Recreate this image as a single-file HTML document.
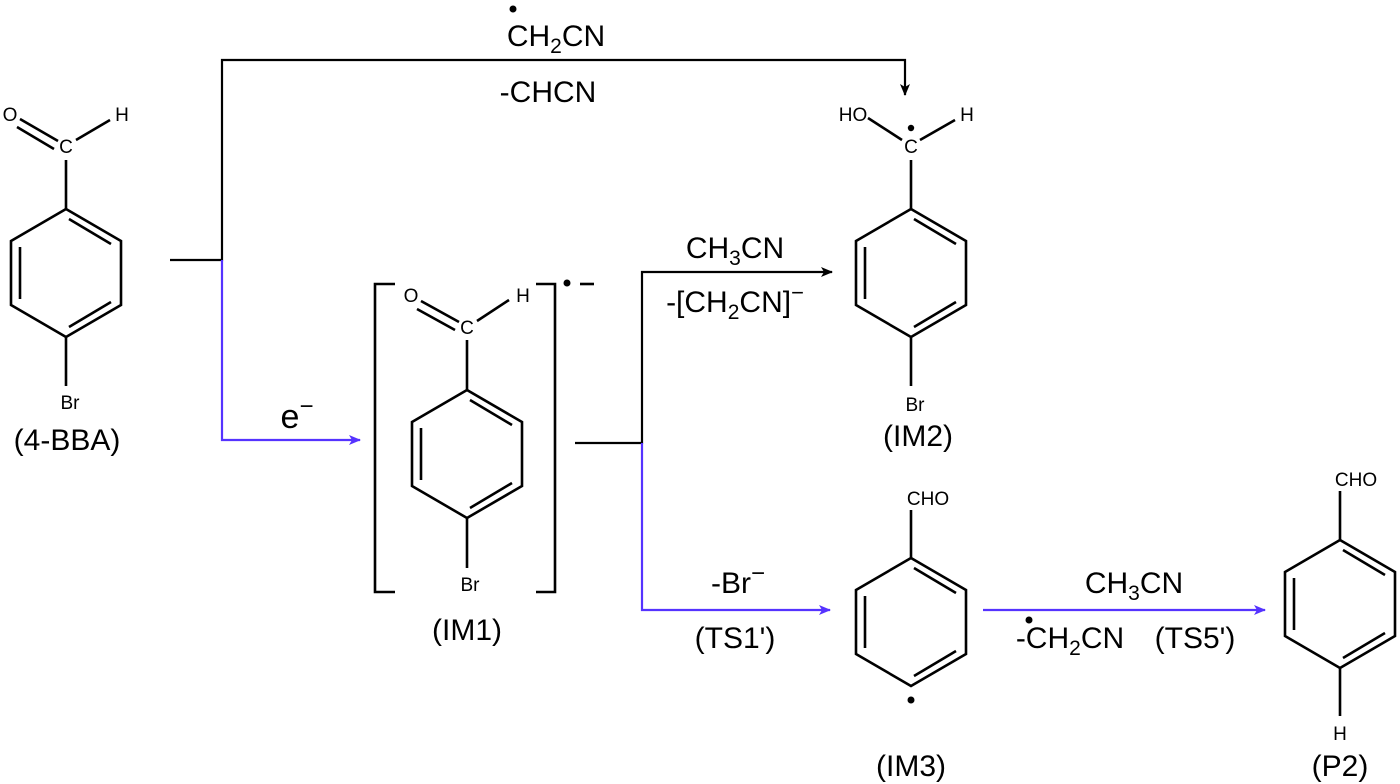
<!DOCTYPE html>
<html><head><meta charset="utf-8"><style>
html,body{margin:0;padding:0;background:#fff;}
svg{display:block;font-family:"Liberation Sans",Arial,sans-serif;}
</style></head><body>
<svg width="1400" height="784" viewBox="0 0 1400 784" xmlns="http://www.w3.org/2000/svg">
<defs>
<g id="ring" fill="none" stroke="#000" stroke-width="2.6">
<polygon points="0,-64 55,-32 55,32 0,64 -55,32 -55,-32"/>
<line x1="3" y1="-54" x2="45" y2="-29"/>
<line x1="-46" y1="-26" x2="-46" y2="26"/>
<line x1="45" y1="29" x2="3" y2="54"/>
</g>
<marker id="ab" markerWidth="12" markerHeight="10" refX="11" refY="5" orient="auto" markerUnits="userSpaceOnUse"><path d="M0,0 L12,5 L0,10 L3,5 Z" fill="#000"/></marker>
<marker id="ap" markerWidth="12" markerHeight="10" refX="11" refY="5" orient="auto" markerUnits="userSpaceOnUse"><path d="M0,0 L12,5 L0,10 L3,5 Z" fill="#5533ff"/></marker>
</defs>

<!-- 4-BBA -->
<use href="#ring" x="66" y="273"/>
<g stroke="#000" stroke-width="2.6" fill="none">
<line x1="66" y1="209" x2="66" y2="160"/>
<line x1="58" y1="141" x2="20" y2="119"/><line x1="54" y1="149" x2="17" y2="127"/>
<line x1="76" y1="140" x2="110" y2="120"/>
<line x1="66" y1="337" x2="66" y2="386"/>
</g>
<g font-size="19" text-anchor="middle">
<text x="66" y="153">C</text><text x="10" y="121">O</text><text x="122" y="121">H</text><text x="70" y="409">Br</text>
</g>
<text x="67" y="450" font-size="30" text-anchor="middle">(4-BBA)</text>

<!-- connectors from 4-BBA -->
<g fill="none" stroke-width="2.2">
<polyline points="170,260 222,260 222,60 905,60 905,95" stroke="#000" marker-end="url(#ab)"/>
<polyline points="222,260 222,440 360,440" stroke="#5533ff" marker-end="url(#ap)"/>
</g>
<g font-size="30" text-anchor="middle">
<text x="556" y="46">CH<tspan font-size="21" dy="7">2</tspan><tspan dy="-7">CN</tspan></text>
<circle cx="513" cy="9" r="3.5"/>
<text x="548" y="102">-CHCN</text>
<text x="297" y="428" font-size="34">e<tspan font-size="24" dy="-14">−</tspan></text>
</g>

<!-- IM1 -->
<g stroke="#000" stroke-width="2.6" fill="none">
<polyline points="395,284 375,284 375,592 395,592"/>
<polyline points="536,284 555,284 555,592 536,592"/>
<line x1="580" y1="284" x2="594" y2="284"/>
</g>
<circle cx="567" cy="283" r="3.5"/>
<use href="#ring" x="467" y="454"/>
<g stroke="#000" stroke-width="2.6" fill="none">
<line x1="467" y1="390" x2="467" y2="340"/>
<line x1="459" y1="322" x2="421" y2="301"/><line x1="455" y1="330" x2="417" y2="309"/>
<line x1="477" y1="321" x2="509" y2="300"/>
<line x1="467" y1="518" x2="467" y2="568"/>
</g>
<g font-size="19" text-anchor="middle">
<text x="467" y="334">C</text><text x="411" y="302">O</text><text x="523" y="302">H</text><text x="470" y="591">Br</text>
</g>
<text x="467" y="640" font-size="30" text-anchor="middle">(IM1)</text>

<!-- connectors from IM1 -->
<g fill="none" stroke-width="2.2">
<polyline points="575,443 642,443 642,272 832,272" stroke="#000" marker-end="url(#ab)"/>
<polyline points="642,443 642,610 830,610" stroke="#5533ff" marker-end="url(#ap)"/>
</g>
<g font-size="30" text-anchor="middle">
<text x="735" y="258">CH<tspan font-size="21" dy="7">3</tspan><tspan dy="-7">CN</tspan></text>
<text x="735" y="312">-[CH<tspan font-size="21" dy="7">2</tspan><tspan dy="-7">CN]</tspan><tspan font-size="22" dy="-12">−</tspan></text>
<text x="738" y="593">-Br<tspan font-size="24" dy="-12">−</tspan></text>
<text x="735" y="648">(TS1')</text>
</g>

<!-- IM2 -->
<use href="#ring" x="911" y="273"/>
<g stroke="#000" stroke-width="2.6" fill="none">
<line x1="911" y1="209" x2="911" y2="160"/>
<line x1="868" y1="118" x2="902" y2="140"/>
<line x1="920" y1="140" x2="955" y2="120"/>
<line x1="911" y1="337" x2="911" y2="386"/>
</g>
<circle cx="911" cy="128" r="3.2"/>
<g font-size="19" text-anchor="middle">
<text x="911" y="153">C</text><text x="853" y="121">HO</text><text x="967" y="121">H</text><text x="915" y="411">Br</text>
</g>
<text x="918" y="446" font-size="30" text-anchor="middle">(IM2)</text>

<!-- IM3 -->
<use href="#ring" x="911" y="622"/>
<line x1="911" y1="558" x2="911" y2="510" stroke="#000" stroke-width="2.6"/>
<text x="928" y="505" font-size="19" text-anchor="middle">CHO</text>
<circle cx="911" cy="700" r="3.5"/>
<text x="911" y="776" font-size="30" text-anchor="middle">(IM3)</text>

<!-- IM3 -> P2 -->
<line x1="983" y1="610" x2="1265" y2="610" stroke="#5533ff" stroke-width="2.2" marker-end="url(#ap)"/>
<g font-size="30" text-anchor="middle">
<text x="1134" y="593">CH<tspan font-size="21" dy="7">3</tspan><tspan dy="-7">CN</tspan></text>
<text x="1070" y="648">-CH<tspan font-size="21" dy="7">2</tspan><tspan dy="-7">CN</tspan></text>
<circle cx="1029" cy="620" r="3.5"/>
<text x="1195" y="648">(TS5')</text>
</g>

<!-- P2 -->
<use href="#ring" x="1340" y="604"/>
<g stroke="#000" stroke-width="2.6">
<line x1="1340" y1="540" x2="1340" y2="491"/>
<line x1="1340" y1="668" x2="1340" y2="716"/>
</g>
<text x="1356" y="486" font-size="19" text-anchor="middle">CHO</text>
<text x="1340" y="740" font-size="19" text-anchor="middle">H</text>
<text x="1340" y="776" font-size="30" text-anchor="middle">(P2)</text>
</svg>
</body></html>
